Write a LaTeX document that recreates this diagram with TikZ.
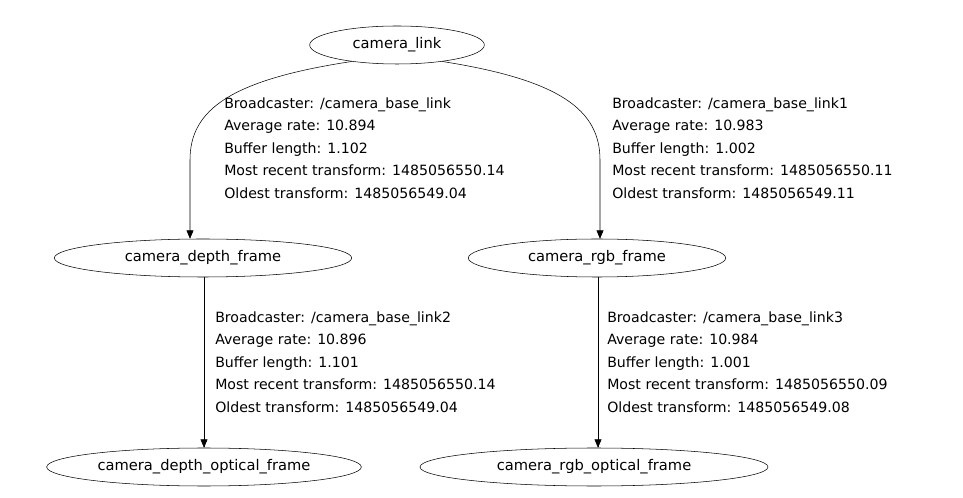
\documentclass[tikz,border=0pt]{standalone}
\usepackage{fontspec}
\setmainfont{DejaVu Sans}
\usetikzlibrary{shapes.geometric,arrows}
\tikzstyle{frame} = [ellipse, draw=black, minimum height=28.5pt, inner sep=0pt, font=\fontsize{11}{13}\selectfont]
\tikzstyle{info} = [anchor=north west, align=left, inner sep=0pt, font=\fontsize{10.6}{16.9}\selectfont]
\tikzstyle{arrow} = [-triangle 45, thin]
\newcommand{\tfinfo}[5]{Broadcaster: #1\\Average rate: #2\\Buffer length: #3\\Most recent transform: #4\\Oldest transform: #5}

\begin{document}
\begin{tikzpicture}[x=0.75pt,y=-0.75pt]
\useasboundingbox (0,0) rectangle (963,498);
\node (link) [frame, minimum width=131pt] at (397,45) {camera\_link};
\node (depth) [frame, minimum width=223pt] at (203,258) {camera\_depth\_frame};
\node (rgb) [frame, minimum width=193pt] at (597,258) {camera\_rgb\_frame};
\node (depthopt) [frame, minimum width=236pt] at (204,467) {camera\_depth\_optical\_frame};
\node (rgbopt) [frame, minimum width=261pt] at (594,467) {camera\_rgb\_optical\_frame};
\draw[arrow] (link.200) .. controls (230,80) and (190,110) .. (190,160) -- (depth.north -| 190,0);
\draw[arrow] (link.-20) .. controls (560,80) and (600,110) .. (600,160) -- (rgb.north -| 600,0);
\draw[arrow] (depth.south -| 204,0) -- (depthopt.north -| 204,0);
\draw[arrow] (rgb.south -| 598,0) -- (rgbopt.north -| 598,0);
\node (infoa) [info] at (224,97) {\tfinfo{/camera\_base\_link}{10.894}{1.102}{1485056550.14}{1485056549.04}};
\node (infob) [info] at (612,97) {\tfinfo{/camera\_base\_link1}{10.983}{1.002}{1485056550.11}{1485056549.11}};
\node (infoc) [info] at (215,311) {\tfinfo{/camera\_base\_link2}{10.896}{1.101}{1485056550.14}{1485056549.04}};
\node (infod) [info] at (607,311) {\tfinfo{/camera\_base\_link3}{10.984}{1.001}{1485056550.09}{1485056549.08}};
\end{tikzpicture}
\end{document}
